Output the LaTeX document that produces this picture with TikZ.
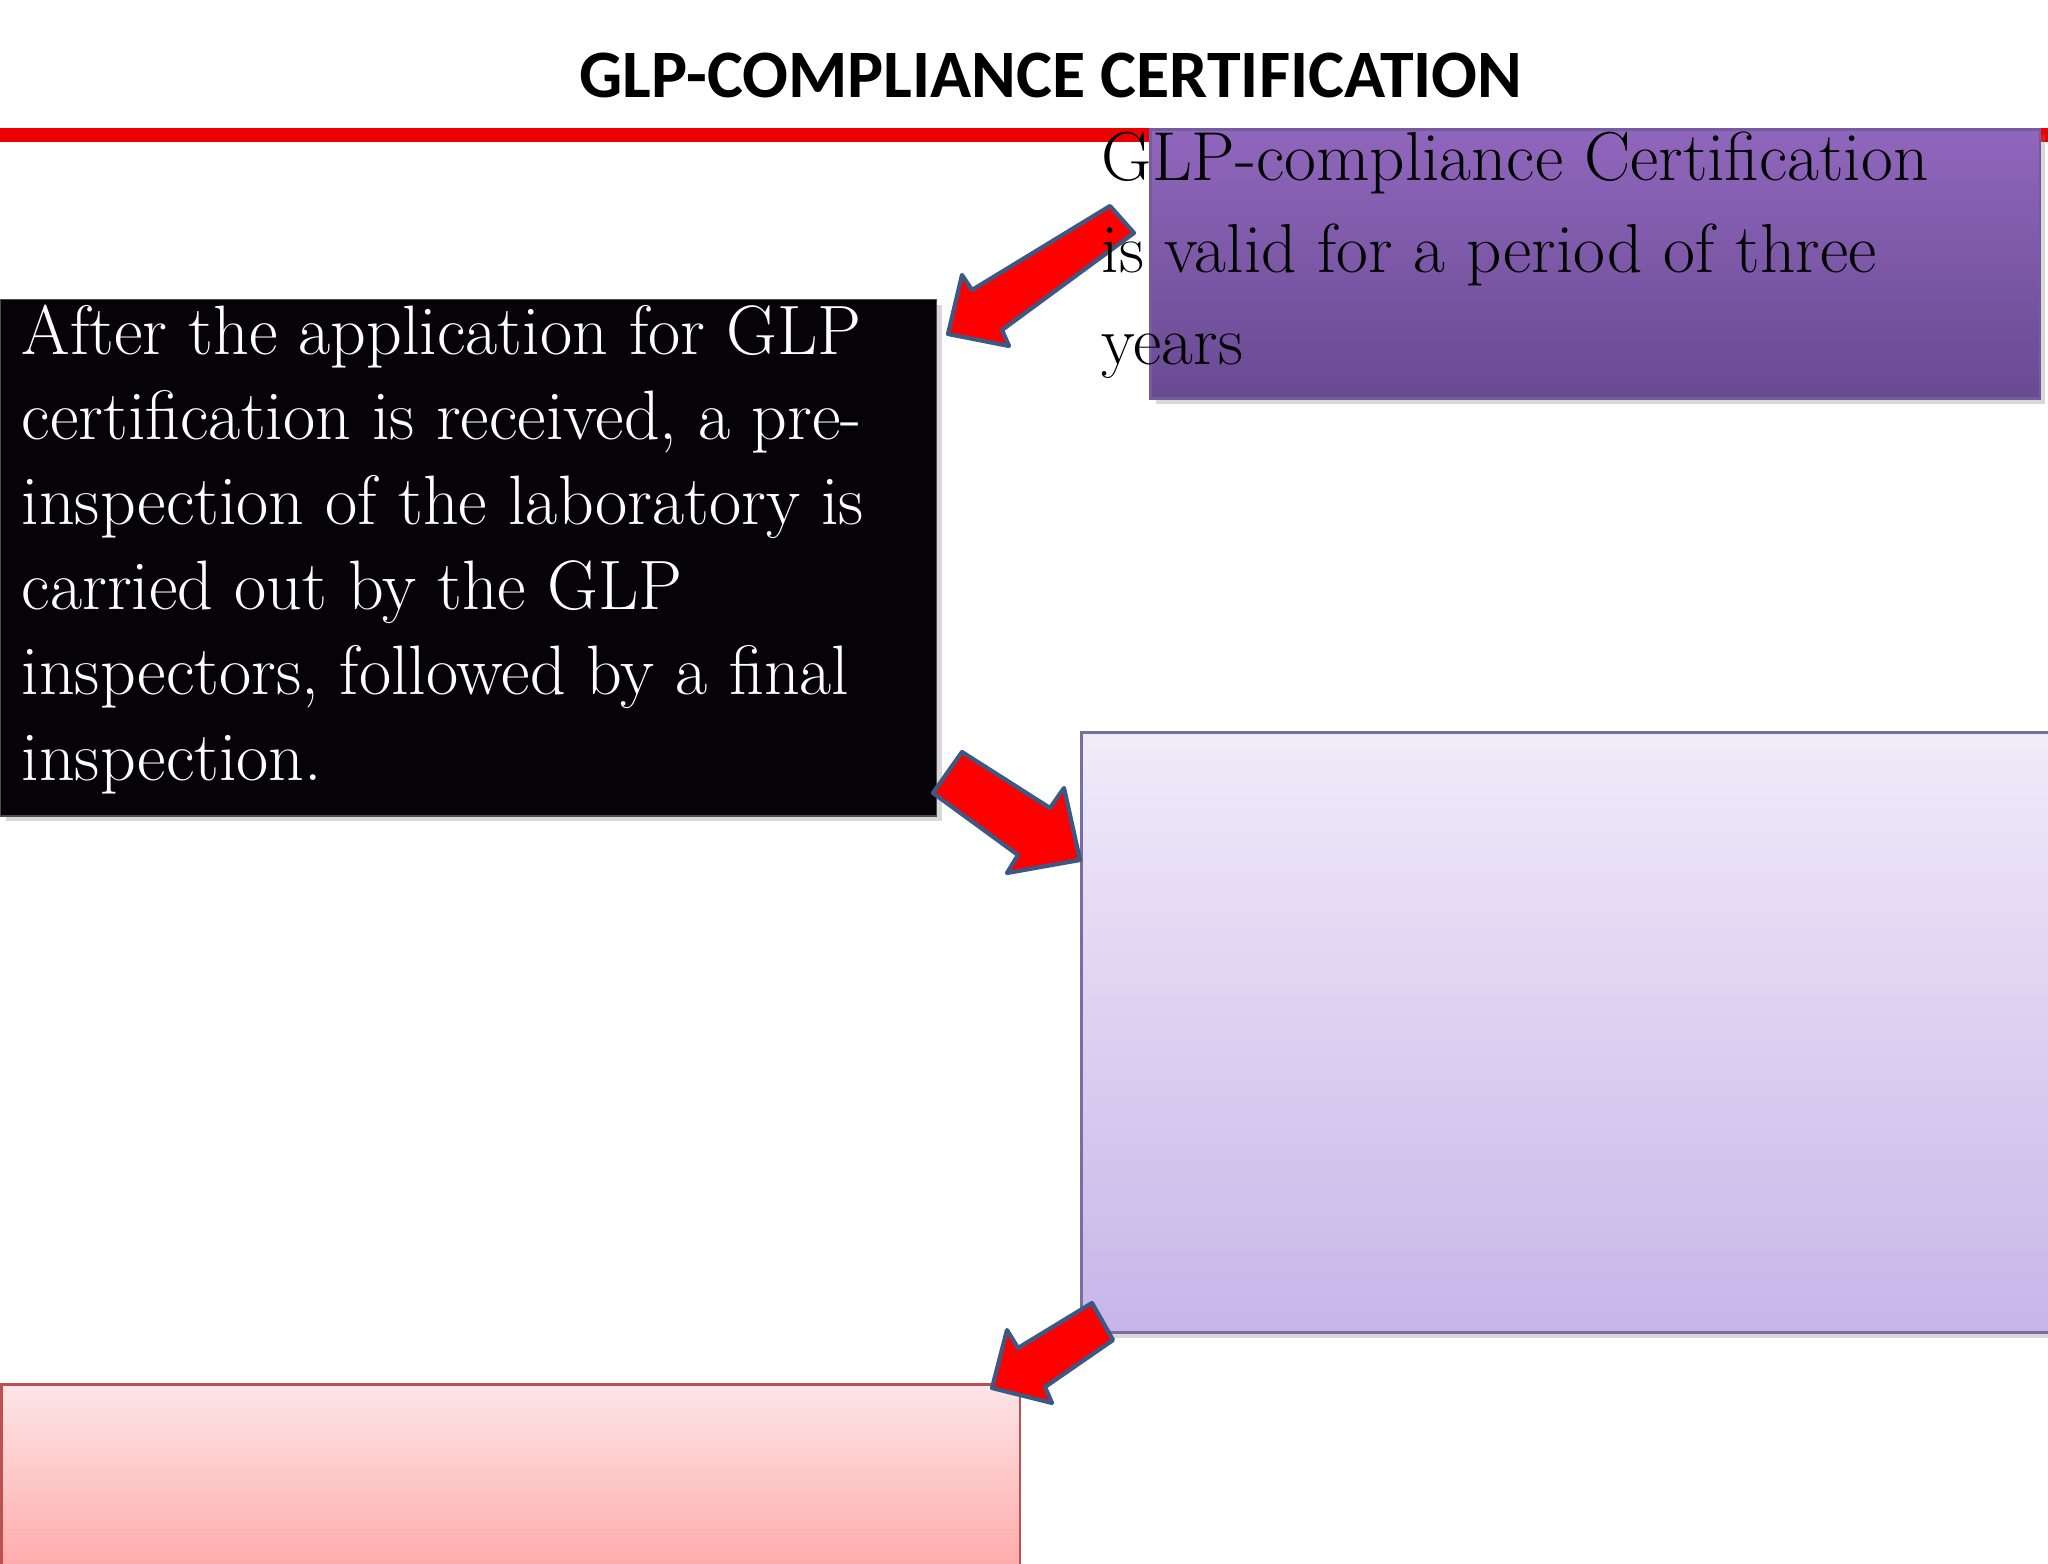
\documentclass[tikz,border=0pt]{standalone}
\usepackage{fontspec}
\newfontfamily\titlefont{Carlito}
\usetikzlibrary{shadows}
\definecolor{redline}{RGB}{238,0,0}
\definecolor{arrowred}{RGB}{255,0,0}
\definecolor{arrowedge}{RGB}{62,88,132}
\definecolor{purtop}{RGB}{144,102,188}
\definecolor{purbot}{RGB}{104,74,146}
\definecolor{puredge}{RGB}{118,92,158}
\definecolor{lavtop}{RGB}{241,235,249}
\definecolor{lavbot}{RGB}{199,181,233}
\definecolor{lavedge}{RGB}{122,110,160}
\definecolor{pinktop}{RGB}{253,229,231}
\definecolor{pinkbot}{RGB}{255,166,164}
\definecolor{pinkedge}{RGB}{190,80,80}
\definecolor{blackfill}{RGB}{5,3,8}
\tikzset{
  boxshape/.style={draw, rectangle, inner sep=0pt, anchor=north west},
  softshadow/.style={drop shadow={opacity=0.3, shadow xshift=1.5pt, shadow yshift=-1.5pt}},
  blockarrow/.style={fill=arrowred, draw=arrowedge, line width=1.2pt, line join=round},
  bodytext/.style={anchor=base west, align=left, inner sep=0pt},
}
\begin{document}
\begin{tikzpicture}[x=0.01cm,y=-0.01cm]
\useasboundingbox (0,0) rectangle (2048,1564);
\fill[white] (0,0) rectangle (2048,1564);

% title and rule
\node[anchor=base, inner sep=0pt, font=\titlefont\bfseries\fontsize{19.3pt}{23pt}\selectfont] (title) at (1051,98) {GLP-COMPLIANCE CERTIFICATION};
\fill[redline] (0,128) rectangle (2048,142);

% boxes
\node[boxshape, softshadow, fill=blackfill, draw=black!70, minimum width=9.35cm, minimum height=5.16cm] (bbox) at (0,299) {};
\node[boxshape, softshadow, top color=lavtop, bottom color=lavbot, draw=lavedge, line width=0.8pt, minimum width=9.67cm, minimum height=6.00cm] (lbox) at (1080,731) {};
\node[boxshape, top color=pinktop, bottom color=pinkbot, draw=pinkedge, line width=0.8pt, minimum width=10.18cm, minimum height=2.0cm] (rbox) at (0,1383) {};
\node[boxshape, softshadow, top color=purtop, bottom color=purbot, draw=puredge, line width=0.8pt, minimum width=8.89cm, minimum height=2.69cm] (pbox) at (1149,128) {};

% block arrows
\draw[blockarrow] (1110,206) -- (1134,233) -- (1002,330) -- (1009,346) -- (948,334) -- (962,275) -- (972,290) -- cycle;
\draw[blockarrow] (962,752) -- (1050,808) -- (1064,788) -- (1080,860) -- (1007,873) -- (1018,855) -- (933,793) -- cycle;
\draw[blockarrow] (1092,1303) -- (1113,1340) -- (1045,1387) -- (1052,1403) -- (992,1388) -- (1007,1330) -- (1018,1348) -- cycle;

% texts (anchored at the baseline of their last line)
\node[bodytext, text=black, font=\fontsize{19.7pt}{26.2pt}\selectfont] (ptext) at (1101,365)
  {GLP-compliance Certification\\is valid for a period of three\\years};
\node[bodytext, text=white, font=\fontsize{19.9pt}{24.2pt}\selectfont] (btext) at (21,780)
  {After the application for GLP\\certification is received, a pre-\\inspection of the laboratory is\\carried out by the GLP\\inspectors, followed by a final\\inspection.};
\end{tikzpicture}
\end{document}
